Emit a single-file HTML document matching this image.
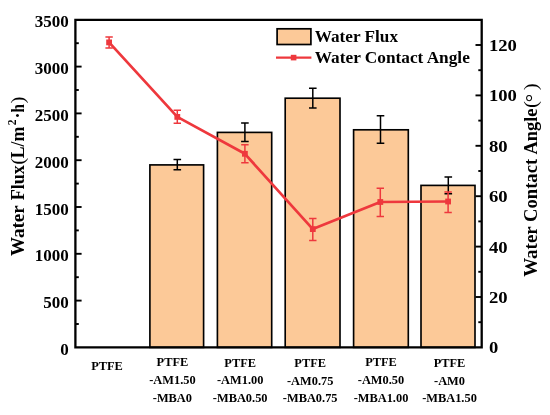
<!DOCTYPE html><html><head><meta charset="utf-8"><title>Water Flux and Water Contact Angle</title>
<style>html,body{margin:0;padding:0;background:#fff}body{width:550px;height:415px;overflow:hidden}svg{display:block}text{font-family:"Liberation Serif","Noto Serif CJK SC",serif;font-weight:bold;fill:#000}.n{font-weight:normal}</style></head><body>
<svg width="550" height="415" viewBox="0 0 550 415">
<rect width="550" height="415" fill="#fff"/>
<rect x="149.9" y="164.9" width="53.7" height="182.5" fill="#FCC998" stroke="#000" stroke-width="1.65"/>
<rect x="217.4" y="132.4" width="54.3" height="215.0" fill="#FCC998" stroke="#000" stroke-width="1.65"/>
<rect x="285.2" y="98.2" width="54.8" height="249.2" fill="#FCC998" stroke="#000" stroke-width="1.65"/>
<rect x="353.6" y="129.8" width="54.7" height="217.6" fill="#FCC998" stroke="#000" stroke-width="1.65"/>
<rect x="421.0" y="185.4" width="54.0" height="162.0" fill="#FCC998" stroke="#000" stroke-width="1.65"/>
<path d="M177.3 159.6V169.8M173.5 159.6H181.1M173.5 169.8H181.1" stroke="#000" stroke-width="1.5" fill="none"/>
<path d="M244.9 123.0V141.5M241.1 123.0H248.7M241.1 141.5H248.7" stroke="#000" stroke-width="1.5" fill="none"/>
<path d="M312.8 88.3V108.0M309.0 88.3H316.6M309.0 108.0H316.6" stroke="#000" stroke-width="1.5" fill="none"/>
<path d="M380.5 115.8V143.3M376.7 115.8H384.3M376.7 143.3H384.3" stroke="#000" stroke-width="1.5" fill="none"/>
<path d="M448.3 177.1V193.7M444.5 177.1H452.1M444.5 193.7H452.1" stroke="#000" stroke-width="1.5" fill="none"/>
<path d="M75.4 19.8H481.7V347.4H75.4Z" fill="none" stroke="#000" stroke-width="2.3"/>
<path d="M75.4 324.0h3.4" stroke="#000" stroke-width="1.9"/>
<path d="M75.4 300.6h6.2" stroke="#000" stroke-width="1.9"/>
<path d="M75.4 277.2h3.4" stroke="#000" stroke-width="1.9"/>
<path d="M75.4 253.8h6.2" stroke="#000" stroke-width="1.9"/>
<path d="M75.4 230.4h3.4" stroke="#000" stroke-width="1.9"/>
<path d="M75.4 207.0h6.2" stroke="#000" stroke-width="1.9"/>
<path d="M75.4 183.6h3.4" stroke="#000" stroke-width="1.9"/>
<path d="M75.4 160.2h6.2" stroke="#000" stroke-width="1.9"/>
<path d="M75.4 136.8h3.4" stroke="#000" stroke-width="1.9"/>
<path d="M75.4 113.4h6.2" stroke="#000" stroke-width="1.9"/>
<path d="M75.4 90.0h3.4" stroke="#000" stroke-width="1.9"/>
<path d="M75.4 66.6h6.2" stroke="#000" stroke-width="1.9"/>
<path d="M75.4 43.2h3.4" stroke="#000" stroke-width="1.9"/>
<path d="M481.7 322.2h-3.4" stroke="#000" stroke-width="1.9"/>
<path d="M481.7 297.0h-6.2" stroke="#000" stroke-width="1.9"/>
<path d="M481.7 271.8h-3.4" stroke="#000" stroke-width="1.9"/>
<path d="M481.7 246.6h-6.2" stroke="#000" stroke-width="1.9"/>
<path d="M481.7 221.4h-3.4" stroke="#000" stroke-width="1.9"/>
<path d="M481.7 196.2h-6.2" stroke="#000" stroke-width="1.9"/>
<path d="M481.7 171.0h-3.4" stroke="#000" stroke-width="1.9"/>
<path d="M481.7 145.8h-6.2" stroke="#000" stroke-width="1.9"/>
<path d="M481.7 120.6h-3.4" stroke="#000" stroke-width="1.9"/>
<path d="M481.7 95.4h-6.2" stroke="#000" stroke-width="1.9"/>
<path d="M481.7 70.2h-3.4" stroke="#000" stroke-width="1.9"/>
<path d="M481.7 45.0h-6.2" stroke="#000" stroke-width="1.9"/>
<text x="68.8" y="354.9" font-size="17" text-anchor="end">0</text>
<text x="68.8" y="308.1" font-size="17" text-anchor="end">500</text>
<text x="68.8" y="261.3" font-size="17" text-anchor="end">1000</text>
<text x="68.8" y="214.5" font-size="17" text-anchor="end">1500</text>
<text x="68.8" y="167.7" font-size="17" text-anchor="end">2000</text>
<text x="68.8" y="120.9" font-size="17" text-anchor="end">2500</text>
<text x="68.8" y="74.1" font-size="17" text-anchor="end">3000</text>
<text x="68.8" y="27.3" font-size="17" text-anchor="end">3500</text>
<text x="488.9" y="353.4" font-size="17.6" textLength="9.3" lengthAdjust="spacingAndGlyphs">0</text>
<text x="488.9" y="303.0" font-size="17.6" textLength="18.7" lengthAdjust="spacingAndGlyphs">20</text>
<text x="488.9" y="252.6" font-size="17.6" textLength="18.7" lengthAdjust="spacingAndGlyphs">40</text>
<text x="488.9" y="202.2" font-size="17.6" textLength="18.7" lengthAdjust="spacingAndGlyphs">60</text>
<text x="488.9" y="151.8" font-size="17.6" textLength="18.7" lengthAdjust="spacingAndGlyphs">80</text>
<text x="488.9" y="101.4" font-size="17.6" textLength="28.0" lengthAdjust="spacingAndGlyphs">100</text>
<text x="488.9" y="51.0" font-size="17.6" textLength="28.0" lengthAdjust="spacingAndGlyphs">120</text>
<polyline points="109.1,42.4 177.3,116.9 244.9,153.8 312.8,229.1 380.3,202.0 448.1,201.5" fill="none" stroke="#EE383D" stroke-width="2.7" stroke-linejoin="round"/>
<path d="M109.1 36.9V48.1M105.4 36.9H112.8M105.4 48.1H112.8" stroke="#EE383D" stroke-width="1.5" fill="none"/>
<rect x="106.2" y="39.5" width="5.8" height="5.8" fill="#EE383D"/>
<path d="M177.3 110.2V123.3M173.6 110.2H181.0M173.6 123.3H181.0" stroke="#EE383D" stroke-width="1.5" fill="none"/>
<rect x="174.4" y="114.0" width="5.8" height="5.8" fill="#EE383D"/>
<path d="M244.9 144.7V162.8M241.2 144.7H248.6M241.2 162.8H248.6" stroke="#EE383D" stroke-width="1.5" fill="none"/>
<rect x="242.0" y="150.9" width="5.8" height="5.8" fill="#EE383D"/>
<path d="M312.8 218.5V240.5M309.1 218.5H316.5M309.1 240.5H316.5" stroke="#EE383D" stroke-width="1.5" fill="none"/>
<rect x="309.9" y="226.2" width="5.8" height="5.8" fill="#EE383D"/>
<path d="M380.3 188.2V216.6M376.6 188.2H384.0M376.6 216.6H384.0" stroke="#EE383D" stroke-width="1.5" fill="none"/>
<rect x="377.4" y="199.1" width="5.8" height="5.8" fill="#EE383D"/>
<path d="M448.1 192.0V212.5M444.4 192.0H451.8M444.4 212.5H451.8" stroke="#EE383D" stroke-width="1.5" fill="none"/>
<rect x="445.2" y="198.6" width="5.8" height="5.8" fill="#EE383D"/>
<rect x="277.1" y="28.8" width="33.8" height="15.7" fill="#FCC998" stroke="#000" stroke-width="1.7"/>
<text x="314.8" y="42.4" font-size="17.6" textLength="83.2" lengthAdjust="spacingAndGlyphs">Water Flux</text>
<path d="M276 57.6H311.4" stroke="#EE383D" stroke-width="2.4"/>
<rect x="290.8" y="54.8" width="5.6" height="5.6" fill="#EE383D"/>
<text x="314.8" y="62.7" font-size="17.6" textLength="155" lengthAdjust="spacingAndGlyphs">Water Contact Angle</text>
<text transform="translate(24.1,0) rotate(-90)" font-size="18"><tspan x="-256.1" textLength="50.5" lengthAdjust="spacingAndGlyphs">Water</tspan> <tspan x="-200.3" textLength="35.1" lengthAdjust="spacingAndGlyphs">Flux</tspan><tspan class="n" x="-164.8" textLength="7.0" lengthAdjust="spacingAndGlyphs">(</tspan><tspan x="-158.3" textLength="31.6" lengthAdjust="spacingAndGlyphs">L/m</tspan><tspan x="-125.2" font-size="11.5" dy="-7.9">2</tspan><tspan x="-118.5" dy="7.9">·</tspan><tspan x="-112.5" textLength="8.3" lengthAdjust="spacingAndGlyphs">h</tspan><tspan class="n" x="-103.4" textLength="7.0" lengthAdjust="spacingAndGlyphs">)</tspan></text>
<text transform="translate(537.2,0) rotate(-90)" font-size="18"><tspan x="-276.8" textLength="50.2" lengthAdjust="spacingAndGlyphs">Water</tspan> <tspan x="-221.9" textLength="63.0" lengthAdjust="spacingAndGlyphs">Contact</tspan> <tspan x="-154.6" textLength="46.0" lengthAdjust="spacingAndGlyphs">Angle</tspan><tspan class="n" x="-107.9" textLength="7.0" lengthAdjust="spacingAndGlyphs">(</tspan><tspan class="n" x="-102.3" font-size="21" dy="2.6">°</tspan><tspan class="n" x="-90.2" dy="-2.6" textLength="7.0" lengthAdjust="spacingAndGlyphs">)</tspan></text>
<text x="107" y="370" font-size="12.4" text-anchor="middle">PTFE</text>
<text x="172.4" y="366.1" font-size="12.4" text-anchor="middle">PTFE</text>
<text x="172.4" y="383.7" font-size="12.4" text-anchor="middle">-AM1.50</text>
<text x="172.4" y="401.5" font-size="12.4" text-anchor="middle">-MBA0</text>
<text x="240.2" y="366.9" font-size="12.4" text-anchor="middle">PTFE</text>
<text x="240.2" y="384.4" font-size="12.4" text-anchor="middle">-AM1.00</text>
<text x="240.2" y="402.3" font-size="12.4" text-anchor="middle">-MBA0.50</text>
<text x="310.2" y="366.8" font-size="12.4" text-anchor="middle">PTFE</text>
<text x="310.2" y="384.7" font-size="12.4" text-anchor="middle">-AM0.75</text>
<text x="310.2" y="402.3" font-size="12.4" text-anchor="middle">-MBA0.75</text>
<text x="381" y="366.0" font-size="12.4" text-anchor="middle">PTFE</text>
<text x="381" y="383.6" font-size="12.4" text-anchor="middle">-AM0.50</text>
<text x="381" y="401.5" font-size="12.4" text-anchor="middle">-MBA1.00</text>
<text x="449.5" y="366.8" font-size="12.4" text-anchor="middle">PTFE</text>
<text x="449.5" y="384.7" font-size="12.4" text-anchor="middle">-AM0</text>
<text x="449.5" y="402.3" font-size="12.4" text-anchor="middle">-MBA1.50</text>
</svg></body></html>
